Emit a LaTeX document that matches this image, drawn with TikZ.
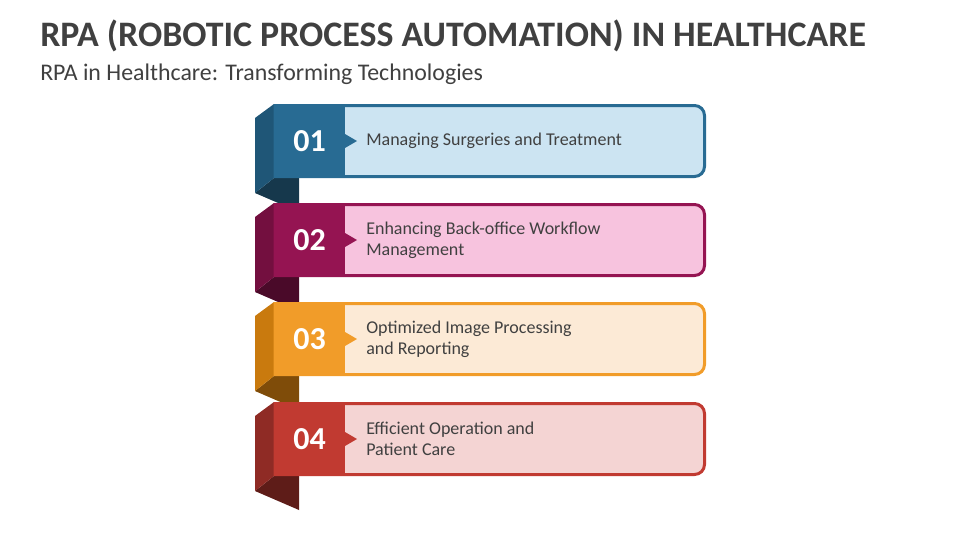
\documentclass[tikz,border=0pt]{standalone}
\usepackage{fontspec}
\setmainfont{Carlito}
\usepackage{xcolor}
\usetikzlibrary{positioning}
\definecolor{textgray}{HTML}{404040}
\definecolor{blueM}{HTML}{286B93}
\definecolor{blueS}{HTML}{1F5677}
\definecolor{blueD}{HTML}{16384C}
\definecolor{blueL}{HTML}{CCE4F2}
\definecolor{plumM}{HTML}{951452}
\definecolor{plumS}{HTML}{730F3F}
\definecolor{plumD}{HTML}{4A0A29}
\definecolor{plumL}{HTML}{F7C3DE}
\definecolor{amberM}{HTML}{F19C29}
\definecolor{amberS}{HTML}{C97A0E}
\definecolor{amberD}{HTML}{7F4C09}
\definecolor{amberL}{HTML}{FCEAD6}
\definecolor{rustM}{HTML}{C13A31}
\definecolor{rustS}{HTML}{8F2B25}
\definecolor{rustD}{HTML}{5E1C18}
\definecolor{rustL}{HTML}{F4D4D3}

\begin{document}
\begin{tikzpicture}[x=0.75pt,y=-0.75pt,
	title/.style={anchor=base west, text=textgray, inner sep=0pt, font=\fontsize{26.9}{31}\selectfont\bfseries},
	subtitle/.style={anchor=base west, text=textgray, inner sep=0pt, font=\fontsize{17.9}{22}\selectfont},
	number/.style={text=white, inner sep=0pt, font=\fontsize{24}{28}\selectfont\bfseries},
	item/.style={anchor=west, text=textgray, inner sep=0pt, align=left, font=\fontsize{13.5}{16}\selectfont}]

  \useasboundingbox (0,0) rectangle (960,540);

  \node[title] (title) at (40,46) {RPA (ROBOTIC PROCESS AUTOMATION) IN HEALTHCARE};
  \node[subtitle] (subtitle) at (40,80) {RPA in Healthcare: Transforming Technologies};

  \foreach \n/\t/\main/\side/\fold/\light/\txt in {
      01/104/blueM/blueS/blueD/blueL/{Managing Surgeries and Treatment},
      02/203/plumM/plumS/plumD/plumL/{Enhancing Back-office Workflow\\Management},
      03/302/amberM/amberS/amberD/amberL/{Optimized Image Processing\\and Reporting},
      04/402/rustM/rustS/rustD/rustL/{Efficient Operation and\\Patient Care}}{
    % fold below and side face
    \fill[\fold] (255,\t+89) -- (274,\t+74) -- (299,\t+74) -- (299,\t+108) -- cycle;
    \fill[\side] (255,\t+14) -- (274,\t) -- (274,\t+74) -- (255,\t+89) -- cycle;
    % card
    \path[fill=\light, draw=\main, line width=2.25pt]
      (275,\t+1.5) [rounded corners=7.5pt] -- (704.5,\t+1.5) -- (704.5,\t+72.5)
      [sharp corners] -- (275,\t+72.5) -- cycle;
    \fill[\main] (274,\t) rectangle (345,\t+74);
    \fill[\main] (345,\t+30) -- (357,\t+37) -- (345,\t+44) -- cycle;
    \node[number] (num\n) at (309.5,\t+37) {\n};
    \node[item] (item\n) at (366,\t+37) {\txt};
  }
\end{tikzpicture}
\end{document}
